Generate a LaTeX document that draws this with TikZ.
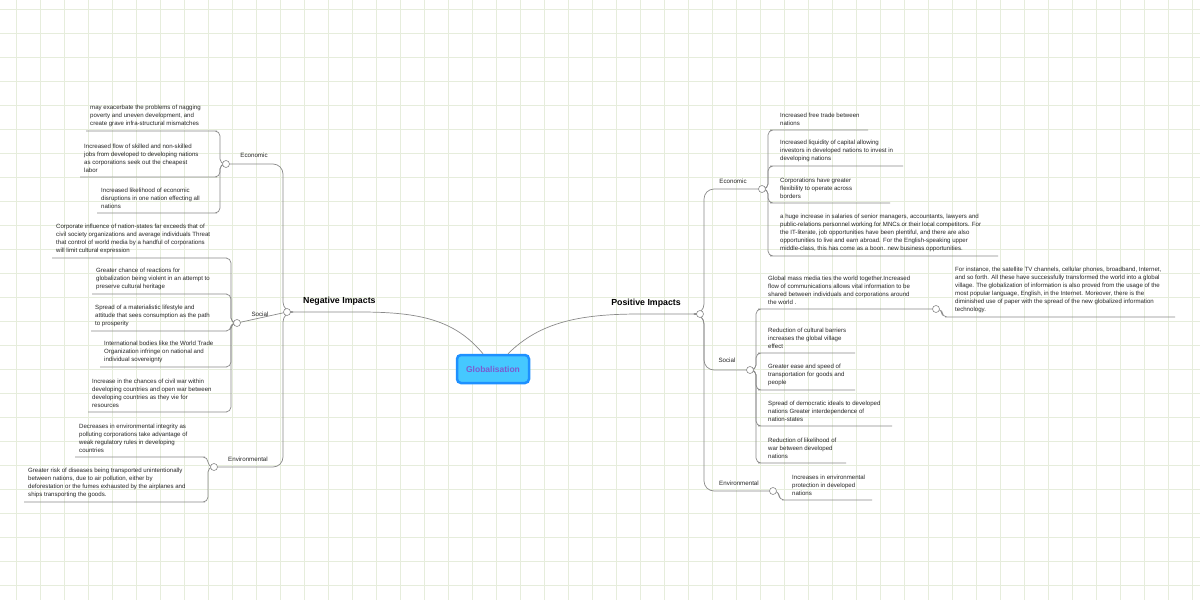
\documentclass[tikz,border=0pt]{standalone}
\usepackage{fontspec}
\setmainfont{Liberation Sans}
\usetikzlibrary{positioning,calc}
\definecolor{gridc}{HTML}{E6EDDC}
\definecolor{linec}{HTML}{8A8A8A}
\definecolor{globfill}{HTML}{45C8FF}
\definecolor{globdraw}{HTML}{1E90FF}
\definecolor{globtext}{HTML}{7A5CD0}
\tikzset{
  conn/.style={draw=linec, line width=0.7pt},
  knot/.style={circle, draw=linec, fill=white, line width=0.6pt, inner sep=0pt, minimum size=7pt},
  leaf/.style={font=\fontsize{6.1}{8}\selectfont, align=left, inner sep=0pt, text=black!85},
  branch/.style={font=\fontsize{6.2}{8}\selectfont, inner sep=0pt, text=black!85},
  topic/.style={font=\bfseries\fontsize{8.8}{10}\selectfont, inner sep=0pt},
  root/.style={rectangle, rounded corners=4pt, fill=globfill, draw=globdraw, line width=2.5pt,
    minimum width=72pt, minimum height=28pt, text=globtext, font=\bfseries\fontsize{8.5}{10}\selectfont}
}
% leaf to the right of a knot: #1 knot, #2 name, #3 x start, #4 y, #5 x end, #6 text
\newcommand{\rleaf}[6]{%
  \coordinate (#2s) at (#3,#4); \coordinate (#2e) at (#5,#4);
  \node[leaf, anchor=south west] (#2) at (#3+5,#4-4) {#6};
  \draw[conn, rounded corners=5pt] (#1) -- ([xshift=6pt]#1) |- (#2s) -- (#2e);}
% leaf to the left of a knot
\newcommand{\lleaf}[6]{%
  \coordinate (#2s) at (#3,#4); \coordinate (#2e) at (#5,#4);
  \node[leaf, anchor=south west] (#2) at (#5+4,#4-4) {#6};
  \draw[conn, rounded corners=5pt] (#1) -- ([xshift=-6pt]#1) |- (#2s) -- (#2e);}
\begin{document}
\begin{tikzpicture}[x=1pt,y=-1pt]
  \useasboundingbox (0,0) rectangle (1200,600);
  \fill[white] (0,0) rectangle (1200,600);
  % grid
  \foreach \gx in {16,40,...,1200} \draw[gridc, line width=0.6pt] (\gx,0) -- (\gx,600);
  \foreach \gy in {9,33,...,600} \draw[gridc, line width=0.6pt] (0,\gy) -- (1200,\gy);

  \node[root] (glob) at (493,369) {Globalisation};

  % knot positions
  \coordinate (neg) at (287,312);
  \coordinate (neco) at (226,164);
  \coordinate (nsoc) at (237,323);
  \coordinate (nenv) at (214,467);
  \coordinate (pos) at (700,314);
  \coordinate (peco) at (762,189);
  \coordinate (psoc) at (750,370);
  \coordinate (penv) at (773,491);
  \coordinate (ps1k) at (936,309);

  % negative side
  \node[topic, anchor=base west] (negl) at (303,303) {Negative Impacts};
  \draw[conn] ([xshift=-10pt]glob.north) .. controls (455,320) and (420,312) .. (360,312) -- (neg);
  \node[branch, anchor=base] at (254,157) {Economic};
  \node[branch, anchor=base] at (260,316) {Social};
  \node[branch, anchor=base] at (248,461) {Environmental};
  \draw[conn, rounded corners=10pt] (neg) -- (283,312) |- (neco);
  \draw[conn] (neg) -- (nsoc);
  \draw[conn, rounded corners=10pt] (neg) -- (283,312) |- (nenv);

  \lleaf{neco}{ne1}{212}{131}{86}{may exacerbate the problems of nagging\\poverty and uneven development, and\\create grave infra-structural mismatches}
  \lleaf{neco}{ne2}{212}{177}{80}{Increased flow of skilled and non-skilled\\jobs from developed to developing nations\\as corporations seek out the cheapest\\labor}
  \lleaf{neco}{ne3}{212}{213}{97}{Increased likelihood of economic\\disruptions in one nation effecting all\\nations}
  \lleaf{nsoc}{ns1}{222}{258}{52}{Corporate influence of nation-states far exceeds that of\\civil society organizations and average individuals  Threat\\that control of world media by a handful of corporations\\will limit cultural expression}
  \lleaf{nsoc}{ns2}{222}{294}{92}{Greater chance of reactions for\\globalization being violent in an attempt to\\preserve cultural heritage}
  \lleaf{nsoc}{ns3}{222}{331}{91}{Spread of a materialistic lifestyle and\\attitude that sees consumption as the path\\to prosperity}
  \lleaf{nsoc}{ns4}{222}{367}{100}{International bodies like the World Trade\\Organization infringe on national and\\individual sovereignty}
  \lleaf{nsoc}{ns5}{222}{412}{88}{Increase in the chances of civil war within\\developing countries and open war between\\developing countries as they vie for\\resources}
  \lleaf{nenv}{nv1}{200}{457}{75}{Decreases in environmental integrity as\\polluting corporations take advantage of\\weak regulatory rules in developing\\countries}
  \lleaf{nenv}{nv2}{200}{502}{24}{Greater risk of diseases being transported unintentionally\\between nations, due to air pollution, either by\\deforestation or the fumes exhausted by the airplanes and\\ships transporting the goods.}

  % positive side
  \node[topic, anchor=base east] (posl) at (681,305) {Positive Impacts};
  \draw[conn] ([xshift=15pt]glob.north) .. controls (540,322) and (580,314) .. (640,314) -- (pos);
  \node[branch, anchor=base] at (733,183) {Economic};
  \node[branch, anchor=base] at (727,362) {Social};
  \node[branch, anchor=base] at (739,485) {Environmental};
  \draw[conn, rounded corners=10pt] (pos) -- (704,314) |- (peco);
  \draw[conn, rounded corners=10pt] (pos) -- (704,314) |- (psoc);
  \draw[conn, rounded corners=10pt] (pos) -- (704,314) |- (penv);

  \rleaf{peco}{pe1}{775}{130}{868}{Increased free trade between\\nations}
  \rleaf{peco}{pe2}{775}{166}{903}{Increased liquidity of capital allowing\\investors in developed nations to invest in\\developing nations}
  \rleaf{peco}{pe3}{775}{203}{890}{Corporations have greater\\flexibility to operate across\\borders}
  \rleaf{peco}{pe4}{775}{256}{998}{a huge increase in salaries of senior managers, accountants, lawyers and\\public-relations personnel working for MNCs or their local competitors. For\\the IT-literate, job opportunities have been plentiful, and there are also\\opportunities to live and earn abroad. For the English-speaking upper\\middle-class, this has come as a boon. new business opportunities.}
  \rleaf{psoc}{ps1}{763}{309}{932}{Global mass media ties the world together.Increased\\flow of communications allows vital information to be\\shared between individuals and corporations around\\the world .}
  \rleaf{ps1k}{ps6}{950}{317}{1175}{For instance, the satellite TV channels, cellular phones, broadband, Internet,\\and so forth. All these have successfully transformed the world into a global\\village. The globalization of information is also proved from the usage of the\\most popular language, English, in the Internet. Moreover, there is the\\diminished use of paper with the spread of the new globalized information\\technology.}
  \rleaf{psoc}{ps2}{763}{353}{855}{Reduction of cultural barriers\\increases the global village\\effect}
  \rleaf{psoc}{ps3}{763}{390}{855}{Greater ease and speed of\\transportation for goods and\\people}
  \rleaf{psoc}{ps4}{763}{426}{892}{Spread of democratic ideals to developed\\nations  Greater interdependence of\\nation-states}
  \rleaf{psoc}{ps5}{763}{463}{846}{Reduction of likelihood of\\war between developed\\nations}
  \rleaf{penv}{pv1}{787}{500}{872}{Increases in environmental\\protection in developed\\nations}

  % knots on top
  \foreach \k in {neg,neco,nsoc,nenv,pos,peco,psoc,penv,ps1k}
    \node[knot] at (\k) {};
\end{tikzpicture}
\end{document}
